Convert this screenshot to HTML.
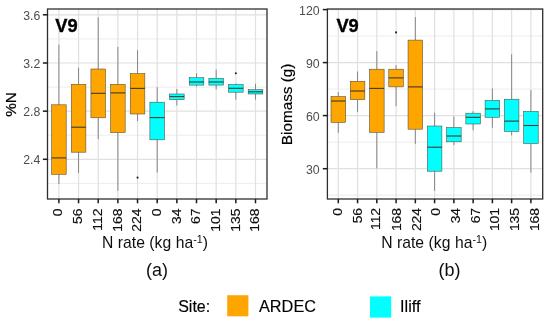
<!DOCTYPE html>
<html lang="en">
<head>
<meta charset="utf-8">
<title>V9 boxplots</title>
<style>
html,body{margin:0;padding:0;background:#fff;}
body{width:550px;height:325px;overflow:hidden;}
svg{display:block;font-family:"Liberation Sans",sans-serif;}
</style>
</head>
<body>
<svg width="550" height="325" viewBox="0 0 550 325">
<defs><filter id="soft" x="0" y="0" width="550" height="325" filterUnits="userSpaceOnUse"><feGaussianBlur stdDeviation="0.35"/></filter></defs>
<rect x="0" y="0" width="550" height="325" fill="#fff"/>
<g filter="url(#soft)">
<g id="panel-a">
<rect x="47.5" y="9.0" width="219.50" height="190.0" fill="#fff"/>
<line x1="47.5" x2="267.0" y1="38.90" y2="38.90" stroke="#E8E8E8" stroke-width="0.8"/>
<line x1="47.5" x2="267.0" y1="87.10" y2="87.10" stroke="#E8E8E8" stroke-width="0.8"/>
<line x1="47.5" x2="267.0" y1="135.20" y2="135.20" stroke="#E8E8E8" stroke-width="0.8"/>
<line x1="47.5" x2="267.0" y1="183.40" y2="183.40" stroke="#E8E8E8" stroke-width="0.8"/>
<line x1="47.5" x2="267.0" y1="14.80" y2="14.80" stroke="#E0E0E0" stroke-width="1.2"/>
<line x1="47.5" x2="267.0" y1="63.00" y2="63.00" stroke="#E0E0E0" stroke-width="1.2"/>
<line x1="47.5" x2="267.0" y1="111.15" y2="111.15" stroke="#E0E0E0" stroke-width="1.2"/>
<line x1="47.5" x2="267.0" y1="159.30" y2="159.30" stroke="#E0E0E0" stroke-width="1.2"/>
<line x1="58.90" x2="58.90" y1="9.0" y2="199.0" stroke="#E0E0E0" stroke-width="1.2"/>
<line x1="78.56" x2="78.56" y1="9.0" y2="199.0" stroke="#E0E0E0" stroke-width="1.2"/>
<line x1="98.22" x2="98.22" y1="9.0" y2="199.0" stroke="#E0E0E0" stroke-width="1.2"/>
<line x1="117.88" x2="117.88" y1="9.0" y2="199.0" stroke="#E0E0E0" stroke-width="1.2"/>
<line x1="137.54" x2="137.54" y1="9.0" y2="199.0" stroke="#E0E0E0" stroke-width="1.2"/>
<line x1="157.20" x2="157.20" y1="9.0" y2="199.0" stroke="#E0E0E0" stroke-width="1.2"/>
<line x1="176.86" x2="176.86" y1="9.0" y2="199.0" stroke="#E0E0E0" stroke-width="1.2"/>
<line x1="196.52" x2="196.52" y1="9.0" y2="199.0" stroke="#E0E0E0" stroke-width="1.2"/>
<line x1="216.18" x2="216.18" y1="9.0" y2="199.0" stroke="#E0E0E0" stroke-width="1.2"/>
<line x1="235.84" x2="235.84" y1="9.0" y2="199.0" stroke="#E0E0E0" stroke-width="1.2"/>
<line x1="255.50" x2="255.50" y1="9.0" y2="199.0" stroke="#E0E0E0" stroke-width="1.2"/>
<line x1="58.90" x2="58.90" y1="44.70" y2="104.80" stroke="#6a6a6a" stroke-width="0.75"/>
<line x1="58.90" x2="58.90" y1="174.30" y2="184.00" stroke="#6a6a6a" stroke-width="0.75"/>
<rect x="51.60" y="104.80" width="14.60" height="69.50" fill="#FFA500" stroke="#4a4a3a" stroke-width="0.55"/>
<line x1="51.60" x2="66.20" y1="157.90" y2="157.90" stroke="#3a3a2a" stroke-width="1.1"/>
<line x1="78.56" x2="78.56" y1="67.70" y2="84.30" stroke="#6a6a6a" stroke-width="0.75"/>
<line x1="78.56" x2="78.56" y1="152.20" y2="173.00" stroke="#6a6a6a" stroke-width="0.75"/>
<rect x="71.26" y="84.30" width="14.60" height="67.90" fill="#FFA500" stroke="#4a4a3a" stroke-width="0.55"/>
<line x1="71.26" x2="85.86" y1="127.20" y2="127.20" stroke="#3a3a2a" stroke-width="1.1"/>
<line x1="98.22" x2="98.22" y1="17.40" y2="69.00" stroke="#6a6a6a" stroke-width="0.75"/>
<line x1="98.22" x2="98.22" y1="117.80" y2="139.30" stroke="#6a6a6a" stroke-width="0.75"/>
<rect x="90.92" y="69.00" width="14.60" height="48.80" fill="#FFA500" stroke="#4a4a3a" stroke-width="0.55"/>
<line x1="90.92" x2="105.52" y1="93.30" y2="93.30" stroke="#3a3a2a" stroke-width="1.1"/>
<line x1="117.88" x2="117.88" y1="46.80" y2="84.30" stroke="#6a6a6a" stroke-width="0.75"/>
<line x1="117.88" x2="117.88" y1="132.60" y2="190.90" stroke="#6a6a6a" stroke-width="0.75"/>
<rect x="110.58" y="84.30" width="14.60" height="48.30" fill="#FFA500" stroke="#4a4a3a" stroke-width="0.55"/>
<line x1="110.58" x2="125.18" y1="92.90" y2="92.90" stroke="#3a3a2a" stroke-width="1.1"/>
<line x1="137.54" x2="137.54" y1="50.30" y2="73.60" stroke="#6a6a6a" stroke-width="0.75"/>
<line x1="137.54" x2="137.54" y1="114.00" y2="121.00" stroke="#6a6a6a" stroke-width="0.75"/>
<rect x="130.24" y="73.60" width="14.60" height="40.40" fill="#FFA500" stroke="#4a4a3a" stroke-width="0.55"/>
<line x1="130.24" x2="144.84" y1="88.40" y2="88.40" stroke="#3a3a2a" stroke-width="1.1"/>
<line x1="157.20" x2="157.20" y1="87.20" y2="102.20" stroke="#6a6a6a" stroke-width="0.75"/>
<line x1="157.20" x2="157.20" y1="139.80" y2="172.50" stroke="#6a6a6a" stroke-width="0.75"/>
<rect x="149.90" y="102.20" width="14.60" height="37.60" fill="#00FFFF" stroke="#4a4a3a" stroke-width="0.55"/>
<line x1="149.90" x2="164.50" y1="117.60" y2="117.60" stroke="#3a3a2a" stroke-width="1.1"/>
<line x1="176.86" x2="176.86" y1="89.00" y2="94.00" stroke="#6a6a6a" stroke-width="0.75"/>
<line x1="176.86" x2="176.86" y1="99.70" y2="105.50" stroke="#6a6a6a" stroke-width="0.75"/>
<rect x="169.56" y="94.00" width="14.60" height="5.70" fill="#00FFFF" stroke="#4a4a3a" stroke-width="0.55"/>
<line x1="169.56" x2="184.16" y1="96.60" y2="96.60" stroke="#3a3a2a" stroke-width="1.1"/>
<line x1="196.52" x2="196.52" y1="73.30" y2="77.70" stroke="#6a6a6a" stroke-width="0.75"/>
<line x1="196.52" x2="196.52" y1="85.10" y2="86.60" stroke="#6a6a6a" stroke-width="0.75"/>
<rect x="189.22" y="77.70" width="14.60" height="7.40" fill="#00FFFF" stroke="#4a4a3a" stroke-width="0.55"/>
<line x1="189.22" x2="203.82" y1="82.00" y2="82.00" stroke="#3a3a2a" stroke-width="1.1"/>
<line x1="216.18" x2="216.18" y1="69.50" y2="78.40" stroke="#6a6a6a" stroke-width="0.75"/>
<line x1="216.18" x2="216.18" y1="85.10" y2="89.50" stroke="#6a6a6a" stroke-width="0.75"/>
<rect x="208.88" y="78.40" width="14.60" height="6.70" fill="#00FFFF" stroke="#4a4a3a" stroke-width="0.55"/>
<line x1="208.88" x2="223.48" y1="82.00" y2="82.00" stroke="#3a3a2a" stroke-width="1.1"/>
<line x1="235.84" x2="235.84" y1="83.50" y2="84.60" stroke="#6a6a6a" stroke-width="0.75"/>
<line x1="235.84" x2="235.84" y1="92.20" y2="99.70" stroke="#6a6a6a" stroke-width="0.75"/>
<rect x="228.54" y="84.60" width="14.60" height="7.60" fill="#00FFFF" stroke="#4a4a3a" stroke-width="0.55"/>
<line x1="228.54" x2="243.14" y1="88.30" y2="88.30" stroke="#3a3a2a" stroke-width="1.1"/>
<line x1="255.50" x2="255.50" y1="83.80" y2="89.70" stroke="#6a6a6a" stroke-width="0.75"/>
<line x1="255.50" x2="255.50" y1="94.00" y2="99.70" stroke="#6a6a6a" stroke-width="0.75"/>
<rect x="248.20" y="89.70" width="14.60" height="4.30" fill="#00FFFF" stroke="#4a4a3a" stroke-width="0.55"/>
<line x1="248.20" x2="262.80" y1="91.80" y2="91.80" stroke="#3a3a2a" stroke-width="1.1"/>
<circle cx="137.54" cy="177.60" r="1.05" fill="#222"/>
<circle cx="235.84" cy="73.30" r="1.05" fill="#222"/>
<rect x="47.5" y="9.0" width="219.50" height="190.0" fill="none" stroke="#2e2e2e" stroke-width="1.3"/>
<line x1="42.90" x2="47.50" y1="14.80" y2="14.80" stroke="#1a1a1a" stroke-width="1.5"/>
<text x="40.30" y="19.70" text-anchor="end" font-size="12.3" fill="#4D4D4D">3.6</text>
<line x1="42.90" x2="47.50" y1="63.00" y2="63.00" stroke="#1a1a1a" stroke-width="1.5"/>
<text x="40.30" y="67.90" text-anchor="end" font-size="12.3" fill="#4D4D4D">3.2</text>
<line x1="42.90" x2="47.50" y1="111.15" y2="111.15" stroke="#1a1a1a" stroke-width="1.5"/>
<text x="40.30" y="116.05" text-anchor="end" font-size="12.3" fill="#4D4D4D">2.8</text>
<line x1="42.90" x2="47.50" y1="159.30" y2="159.30" stroke="#1a1a1a" stroke-width="1.5"/>
<text x="40.30" y="164.20" text-anchor="end" font-size="12.3" fill="#4D4D4D">2.4</text>
<line x1="58.90" x2="58.90" y1="199.0" y2="203.3" stroke="#1a1a1a" stroke-width="1.5"/>
<text transform="translate(62.00,208.5) rotate(-90) scale(1.17,1)" text-anchor="end" font-size="11.9" fill="#111" stroke="#111" stroke-width="0.15">0</text>
<line x1="78.56" x2="78.56" y1="199.0" y2="203.3" stroke="#1a1a1a" stroke-width="1.5"/>
<text transform="translate(82.26,208.5) rotate(-90) scale(1.17,1)" text-anchor="end" font-size="11.9" fill="#111" stroke="#111" stroke-width="0.15">56</text>
<line x1="98.22" x2="98.22" y1="199.0" y2="203.3" stroke="#1a1a1a" stroke-width="1.5"/>
<text transform="translate(101.92,208.5) rotate(-90) scale(1.17,1)" text-anchor="end" font-size="11.9" fill="#111" stroke="#111" stroke-width="0.15">112</text>
<line x1="117.88" x2="117.88" y1="199.0" y2="203.3" stroke="#1a1a1a" stroke-width="1.5"/>
<text transform="translate(121.58,208.5) rotate(-90) scale(1.17,1)" text-anchor="end" font-size="11.9" fill="#111" stroke="#111" stroke-width="0.15">168</text>
<line x1="137.54" x2="137.54" y1="199.0" y2="203.3" stroke="#1a1a1a" stroke-width="1.5"/>
<text transform="translate(141.24,208.5) rotate(-90) scale(1.17,1)" text-anchor="end" font-size="11.9" fill="#111" stroke="#111" stroke-width="0.15">224</text>
<line x1="157.20" x2="157.20" y1="199.0" y2="203.3" stroke="#1a1a1a" stroke-width="1.5"/>
<text transform="translate(160.90,208.5) rotate(-90) scale(1.17,1)" text-anchor="end" font-size="11.9" fill="#111" stroke="#111" stroke-width="0.15">0</text>
<line x1="176.86" x2="176.86" y1="199.0" y2="203.3" stroke="#1a1a1a" stroke-width="1.5"/>
<text transform="translate(180.56,208.5) rotate(-90) scale(1.17,1)" text-anchor="end" font-size="11.9" fill="#111" stroke="#111" stroke-width="0.15">34</text>
<line x1="196.52" x2="196.52" y1="199.0" y2="203.3" stroke="#1a1a1a" stroke-width="1.5"/>
<text transform="translate(200.22,208.5) rotate(-90) scale(1.17,1)" text-anchor="end" font-size="11.9" fill="#111" stroke="#111" stroke-width="0.15">67</text>
<line x1="216.18" x2="216.18" y1="199.0" y2="203.3" stroke="#1a1a1a" stroke-width="1.5"/>
<text transform="translate(219.88,208.5) rotate(-90) scale(1.17,1)" text-anchor="end" font-size="11.9" fill="#111" stroke="#111" stroke-width="0.15">101</text>
<line x1="235.84" x2="235.84" y1="199.0" y2="203.3" stroke="#1a1a1a" stroke-width="1.5"/>
<text transform="translate(239.54,208.5) rotate(-90) scale(1.17,1)" text-anchor="end" font-size="11.9" fill="#111" stroke="#111" stroke-width="0.15">135</text>
<line x1="255.50" x2="255.50" y1="199.0" y2="203.3" stroke="#1a1a1a" stroke-width="1.5"/>
<text transform="translate(259.20,208.5) rotate(-90) scale(1.17,1)" text-anchor="end" font-size="11.9" fill="#111" stroke="#111" stroke-width="0.15">168</text>
<text transform="translate(55.2,31.9) scale(1.04,1)" font-size="17.6" font-weight="bold" fill="#000" stroke="#000" stroke-width="0.35">V9</text>
<text transform="translate(15.5,104.4) rotate(-90)" text-anchor="middle" font-size="15.3" fill="#000" stroke="#000" stroke-width="0.2">%N</text>
<text x="155" y="248.3" text-anchor="middle" font-size="15.7" letter-spacing="0.05" fill="#111">N rate (kg ha<tspan font-size="10.6" dy="-5.6">-1</tspan><tspan dy="5.6">)</tspan></text>
<text x="157" y="275.8" text-anchor="middle" font-size="18" fill="#111">(a)</text>
</g>
<g id="panel-b">
<rect x="327.4" y="9.0" width="215.30" height="190.0" fill="#fff"/>
<line x1="327.4" x2="542.7" y1="36.10" y2="36.10" stroke="#E8E8E8" stroke-width="0.8"/>
<line x1="327.4" x2="542.7" y1="89.10" y2="89.10" stroke="#E8E8E8" stroke-width="0.8"/>
<line x1="327.4" x2="542.7" y1="142.20" y2="142.20" stroke="#E8E8E8" stroke-width="0.8"/>
<line x1="327.4" x2="542.7" y1="195.20" y2="195.20" stroke="#E8E8E8" stroke-width="0.8"/>
<line x1="327.4" x2="542.7" y1="9.60" y2="9.60" stroke="#E0E0E0" stroke-width="1.2"/>
<line x1="327.4" x2="542.7" y1="62.60" y2="62.60" stroke="#E0E0E0" stroke-width="1.2"/>
<line x1="327.4" x2="542.7" y1="115.60" y2="115.60" stroke="#E0E0E0" stroke-width="1.2"/>
<line x1="327.4" x2="542.7" y1="168.70" y2="168.70" stroke="#E0E0E0" stroke-width="1.2"/>
<line x1="338.30" x2="338.30" y1="9.0" y2="199.0" stroke="#E0E0E0" stroke-width="1.2"/>
<line x1="357.56" x2="357.56" y1="9.0" y2="199.0" stroke="#E0E0E0" stroke-width="1.2"/>
<line x1="376.82" x2="376.82" y1="9.0" y2="199.0" stroke="#E0E0E0" stroke-width="1.2"/>
<line x1="396.08" x2="396.08" y1="9.0" y2="199.0" stroke="#E0E0E0" stroke-width="1.2"/>
<line x1="415.34" x2="415.34" y1="9.0" y2="199.0" stroke="#E0E0E0" stroke-width="1.2"/>
<line x1="434.60" x2="434.60" y1="9.0" y2="199.0" stroke="#E0E0E0" stroke-width="1.2"/>
<line x1="453.86" x2="453.86" y1="9.0" y2="199.0" stroke="#E0E0E0" stroke-width="1.2"/>
<line x1="473.12" x2="473.12" y1="9.0" y2="199.0" stroke="#E0E0E0" stroke-width="1.2"/>
<line x1="492.38" x2="492.38" y1="9.0" y2="199.0" stroke="#E0E0E0" stroke-width="1.2"/>
<line x1="511.64" x2="511.64" y1="9.0" y2="199.0" stroke="#E0E0E0" stroke-width="1.2"/>
<line x1="530.90" x2="530.90" y1="9.0" y2="199.0" stroke="#E0E0E0" stroke-width="1.2"/>
<line x1="338.30" x2="338.30" y1="92.00" y2="96.60" stroke="#6a6a6a" stroke-width="0.75"/>
<line x1="338.30" x2="338.30" y1="122.40" y2="132.90" stroke="#6a6a6a" stroke-width="0.75"/>
<rect x="331.00" y="96.60" width="14.60" height="25.80" fill="#FFA500" stroke="#4a4a3a" stroke-width="0.55"/>
<line x1="331.00" x2="345.60" y1="101.00" y2="101.00" stroke="#3a3a2a" stroke-width="1.1"/>
<line x1="357.56" x2="357.56" y1="71.50" y2="81.30" stroke="#6a6a6a" stroke-width="0.75"/>
<line x1="357.56" x2="357.56" y1="99.70" y2="112.00" stroke="#6a6a6a" stroke-width="0.75"/>
<rect x="350.26" y="81.30" width="14.60" height="18.40" fill="#FFA500" stroke="#4a4a3a" stroke-width="0.55"/>
<line x1="350.26" x2="364.86" y1="91.00" y2="91.00" stroke="#3a3a2a" stroke-width="1.1"/>
<line x1="376.82" x2="376.82" y1="51.10" y2="69.20" stroke="#6a6a6a" stroke-width="0.75"/>
<line x1="376.82" x2="376.82" y1="132.40" y2="168.40" stroke="#6a6a6a" stroke-width="0.75"/>
<rect x="369.52" y="69.20" width="14.60" height="63.20" fill="#FFA500" stroke="#4a4a3a" stroke-width="0.55"/>
<line x1="369.52" x2="384.12" y1="88.40" y2="88.40" stroke="#3a3a2a" stroke-width="1.1"/>
<line x1="396.08" x2="396.08" y1="65.20" y2="69.20" stroke="#6a6a6a" stroke-width="0.75"/>
<line x1="396.08" x2="396.08" y1="86.90" y2="106.20" stroke="#6a6a6a" stroke-width="0.75"/>
<rect x="388.78" y="69.20" width="14.60" height="17.70" fill="#FFA500" stroke="#4a4a3a" stroke-width="0.55"/>
<line x1="388.78" x2="403.38" y1="77.90" y2="77.90" stroke="#3a3a2a" stroke-width="1.1"/>
<line x1="415.34" x2="415.34" y1="17.10" y2="40.10" stroke="#6a6a6a" stroke-width="0.75"/>
<line x1="415.34" x2="415.34" y1="129.20" y2="143.90" stroke="#6a6a6a" stroke-width="0.75"/>
<rect x="408.04" y="40.10" width="14.60" height="89.10" fill="#FFA500" stroke="#4a4a3a" stroke-width="0.55"/>
<line x1="408.04" x2="422.64" y1="86.90" y2="86.90" stroke="#3a3a2a" stroke-width="1.1"/>
<line x1="434.60" x2="434.60" y1="112.70" y2="126.00" stroke="#6a6a6a" stroke-width="0.75"/>
<line x1="434.60" x2="434.60" y1="171.20" y2="190.90" stroke="#6a6a6a" stroke-width="0.75"/>
<rect x="427.30" y="126.00" width="14.60" height="45.20" fill="#00FFFF" stroke="#4a4a3a" stroke-width="0.55"/>
<line x1="427.30" x2="441.90" y1="147.20" y2="147.20" stroke="#3a3a2a" stroke-width="1.1"/>
<line x1="453.86" x2="453.86" y1="116.50" y2="127.50" stroke="#6a6a6a" stroke-width="0.75"/>
<line x1="453.86" x2="453.86" y1="141.80" y2="145.20" stroke="#6a6a6a" stroke-width="0.75"/>
<rect x="446.56" y="127.50" width="14.60" height="14.30" fill="#00FFFF" stroke="#4a4a3a" stroke-width="0.55"/>
<line x1="446.56" x2="461.16" y1="136.00" y2="136.00" stroke="#3a3a2a" stroke-width="1.1"/>
<line x1="473.12" x2="473.12" y1="111.20" y2="113.20" stroke="#6a6a6a" stroke-width="0.75"/>
<line x1="473.12" x2="473.12" y1="124.00" y2="130.30" stroke="#6a6a6a" stroke-width="0.75"/>
<rect x="465.82" y="113.20" width="14.60" height="10.80" fill="#00FFFF" stroke="#4a4a3a" stroke-width="0.55"/>
<line x1="465.82" x2="480.42" y1="117.30" y2="117.30" stroke="#3a3a2a" stroke-width="1.1"/>
<line x1="492.38" x2="492.38" y1="88.40" y2="100.40" stroke="#6a6a6a" stroke-width="0.75"/>
<line x1="492.38" x2="492.38" y1="117.30" y2="127.80" stroke="#6a6a6a" stroke-width="0.75"/>
<rect x="485.08" y="100.40" width="14.60" height="16.90" fill="#00FFFF" stroke="#4a4a3a" stroke-width="0.55"/>
<line x1="485.08" x2="499.68" y1="108.90" y2="108.90" stroke="#3a3a2a" stroke-width="1.1"/>
<line x1="511.64" x2="511.64" y1="54.40" y2="99.20" stroke="#6a6a6a" stroke-width="0.75"/>
<line x1="511.64" x2="511.64" y1="131.40" y2="135.40" stroke="#6a6a6a" stroke-width="0.75"/>
<rect x="504.34" y="99.20" width="14.60" height="32.20" fill="#00FFFF" stroke="#4a4a3a" stroke-width="0.55"/>
<line x1="504.34" x2="518.94" y1="121.10" y2="121.10" stroke="#3a3a2a" stroke-width="1.1"/>
<line x1="530.90" x2="530.90" y1="90.20" y2="111.40" stroke="#6a6a6a" stroke-width="0.75"/>
<line x1="530.90" x2="530.90" y1="143.50" y2="172.50" stroke="#6a6a6a" stroke-width="0.75"/>
<rect x="523.60" y="111.40" width="14.60" height="32.10" fill="#00FFFF" stroke="#4a4a3a" stroke-width="0.55"/>
<line x1="523.60" x2="538.20" y1="125.50" y2="125.50" stroke="#3a3a2a" stroke-width="1.1"/>
<circle cx="396.08" cy="32.40" r="1.05" fill="#222"/>
<rect x="327.4" y="9.0" width="215.30" height="190.0" fill="none" stroke="#2e2e2e" stroke-width="1.3"/>
<line x1="322.80" x2="327.40" y1="9.60" y2="9.60" stroke="#1a1a1a" stroke-width="1.5"/>
<text x="319.60" y="14.50" text-anchor="end" font-size="12.3" fill="#4D4D4D">120</text>
<line x1="322.80" x2="327.40" y1="62.60" y2="62.60" stroke="#1a1a1a" stroke-width="1.5"/>
<text x="319.60" y="67.50" text-anchor="end" font-size="12.3" fill="#4D4D4D">90</text>
<line x1="322.80" x2="327.40" y1="115.60" y2="115.60" stroke="#1a1a1a" stroke-width="1.5"/>
<text x="319.60" y="120.50" text-anchor="end" font-size="12.3" fill="#4D4D4D">60</text>
<line x1="322.80" x2="327.40" y1="168.70" y2="168.70" stroke="#1a1a1a" stroke-width="1.5"/>
<text x="319.60" y="173.60" text-anchor="end" font-size="12.3" fill="#4D4D4D">30</text>
<line x1="338.30" x2="338.30" y1="199.0" y2="203.3" stroke="#1a1a1a" stroke-width="1.5"/>
<text transform="translate(341.90,207.9) rotate(-90) scale(1.17,1)" text-anchor="end" font-size="11.9" fill="#111" stroke="#111" stroke-width="0.15">0</text>
<line x1="357.56" x2="357.56" y1="199.0" y2="203.3" stroke="#1a1a1a" stroke-width="1.5"/>
<text transform="translate(361.56,207.9) rotate(-90) scale(1.17,1)" text-anchor="end" font-size="11.9" fill="#111" stroke="#111" stroke-width="0.15">56</text>
<line x1="376.82" x2="376.82" y1="199.0" y2="203.3" stroke="#1a1a1a" stroke-width="1.5"/>
<text transform="translate(380.40,207.9) rotate(-90) scale(1.17,1)" text-anchor="end" font-size="11.9" fill="#111" stroke="#111" stroke-width="0.15">112</text>
<line x1="396.08" x2="396.08" y1="199.0" y2="203.3" stroke="#1a1a1a" stroke-width="1.5"/>
<text transform="translate(401.40,207.9) rotate(-90) scale(1.17,1)" text-anchor="end" font-size="11.9" fill="#111" stroke="#111" stroke-width="0.15">168</text>
<line x1="415.34" x2="415.34" y1="199.0" y2="203.3" stroke="#1a1a1a" stroke-width="1.5"/>
<text transform="translate(420.54,207.9) rotate(-90) scale(1.17,1)" text-anchor="end" font-size="11.9" fill="#111" stroke="#111" stroke-width="0.15">224</text>
<line x1="434.60" x2="434.60" y1="199.0" y2="203.3" stroke="#1a1a1a" stroke-width="1.5"/>
<text transform="translate(440.20,207.9) rotate(-90) scale(1.17,1)" text-anchor="end" font-size="11.9" fill="#111" stroke="#111" stroke-width="0.15">0</text>
<line x1="453.86" x2="453.86" y1="199.0" y2="203.3" stroke="#1a1a1a" stroke-width="1.5"/>
<text transform="translate(459.86,207.9) rotate(-90) scale(1.17,1)" text-anchor="end" font-size="11.9" fill="#111" stroke="#111" stroke-width="0.15">34</text>
<line x1="473.12" x2="473.12" y1="199.0" y2="203.3" stroke="#1a1a1a" stroke-width="1.5"/>
<text transform="translate(479.52,207.9) rotate(-90) scale(1.17,1)" text-anchor="end" font-size="11.9" fill="#111" stroke="#111" stroke-width="0.15">67</text>
<line x1="492.38" x2="492.38" y1="199.0" y2="203.3" stroke="#1a1a1a" stroke-width="1.5"/>
<text transform="translate(499.18,207.9) rotate(-90) scale(1.17,1)" text-anchor="end" font-size="11.9" fill="#111" stroke="#111" stroke-width="0.15">101</text>
<line x1="511.64" x2="511.64" y1="199.0" y2="203.3" stroke="#1a1a1a" stroke-width="1.5"/>
<text transform="translate(518.84,207.9) rotate(-90) scale(1.17,1)" text-anchor="end" font-size="11.9" fill="#111" stroke="#111" stroke-width="0.15">135</text>
<line x1="530.90" x2="530.90" y1="199.0" y2="203.3" stroke="#1a1a1a" stroke-width="1.5"/>
<text transform="translate(538.50,207.9) rotate(-90) scale(1.17,1)" text-anchor="end" font-size="11.9" fill="#111" stroke="#111" stroke-width="0.15">168</text>
<text transform="translate(336.4,31.9) scale(1.04,1)" font-size="17.6" font-weight="bold" fill="#000" stroke="#000" stroke-width="0.35">V9</text>
<text transform="translate(292.0,104.4) rotate(-90)" text-anchor="middle" font-size="15.3" fill="#000" stroke="#000" stroke-width="0.2">Biomass (g)</text>
<text x="434.2" y="248.3" text-anchor="middle" font-size="15.7" letter-spacing="0.05" fill="#111">N rate (kg ha<tspan font-size="10.6" dy="-5.6">-1</tspan><tspan dy="5.6">)</tspan></text>
<text x="449.4" y="275.8" text-anchor="middle" font-size="18" fill="#111">(b)</text>
</g>
<g id="legend">
<text x="178.2" y="311.9" font-size="16" fill="#000" stroke="#000" stroke-width="0.15">Site:</text>
<rect x="227.2" y="295.2" width="21.2" height="21.1" fill="#FFA500"/>
<text x="259" y="311.9" font-size="16.3" fill="#000" stroke="#000" stroke-width="0.15">ARDEC</text>
<rect x="370" y="296.4" width="21.2" height="21.2" fill="#00FFFF"/>
<text x="400" y="311.9" font-size="16.3" fill="#000" stroke="#000" stroke-width="0.15">Iliff</text>
</g>
</g>
</svg>
</body>
</html>
